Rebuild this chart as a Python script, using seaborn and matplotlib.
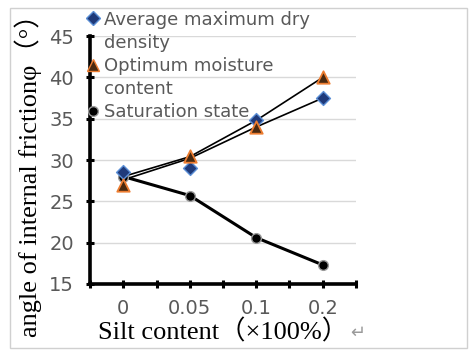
import numpy as np
import pandas as pd
import matplotlib
matplotlib.use('Agg')
import matplotlib.pyplot as plt
import seaborn as sns
from matplotlib.patches import Rectangle
from matplotlib.lines import Line2D

silt = ['0', '0.05', '0.1', '0.2']
dry_density = [28.5, 29.0, 34.8, 37.5]
moisture = [27.0, 30.5, 34.0, 40.0]
saturation = [28.0, 25.7, 20.6, 17.3]
# thin curves drawn in the original
curve_upper = [28.0, 30.4, 34.8, 40.0]
curve_lower = [27.6, 30.2, 34.0, 37.5]

x = np.arange(len(silt))
df = pd.DataFrame({'x': x, 'dry': dry_density, 'moist': moisture, 'sat': saturation,
                   'up': curve_upper, 'low': curve_lower})

sns.set_style('white')
fig = plt.figure(figsize=(4.74, 3.54), dpi=100)
ax = fig.add_axes([0.190, 0.198, 0.561, 0.700])

sns.lineplot(data=df, x='x', y='up', ax=ax, color='black', lw=1.2, zorder=3)
sns.lineplot(data=df, x='x', y='low', ax=ax, color='black', lw=1.2, zorder=3)
sns.lineplot(data=df, x='x', y='sat', ax=ax, color='black', lw=2.2, marker='o',
             markersize=7, markerfacecolor='black', markeredgecolor='#9a9a9a',
             markeredgewidth=1.0, zorder=4)
sns.scatterplot(data=df, x='x', y='dry', ax=ax, marker='D', s=50, color='#1f3a7a',
                edgecolor='#5b8fd6', linewidth=1.0, zorder=5)
sns.scatterplot(data=df, x='x', y='moist', ax=ax, marker='^', s=80, color='#4a2a10',
                edgecolor='#ed7d31', linewidth=1.3, zorder=5)

ax.set_xlim(-0.5, 3.5)
ax.set_ylim(15, 45)
ax.set_yticks([15, 20, 25, 30, 35, 40, 45])
ax.set_xticks(x)
ax.set_xticklabels(silt)
ax.set_xticks([-0.5, 0.5, 1.5, 2.5, 3.5], minor=True)
ax.yaxis.grid(True, color='#d9d9d9', lw=1.0)
ax.set_axisbelow(True)
for s in ['top', 'right']:
    ax.spines[s].set_visible(False)
for s in ['left', 'bottom']:
    ax.spines[s].set_color('black')
    ax.spines[s].set_linewidth(2.6)
ax.tick_params(axis='both', which='both', direction='inout', color='black',
               length=6, width=2.2, labelsize=14, labelcolor='#595959',
               left=True, bottom=True)
ax.tick_params(axis='x', which='major', pad=8)
ax.tick_params(axis='y', which='major', pad=8.5)
ax.set_xlabel('Silt content（×100%）', fontsize=19, family=['Liberation Serif', 'Noto Sans CJK SC'],
              color='black')
ax.set_ylabel('angle of internal frictionφ（°）', fontsize=19,
              family=['Liberation Serif', 'Noto Sans CJK SC'], color='black')
ax.yaxis.set_label_coords(-0.182, 0.462)
ax.xaxis.set_label_coords(0.50, -0.145)

fig.text(0.738, 0.045, '↵', fontsize=13, color='#9a9a9a', family='DejaVu Sans')

blank = Line2D([], [], ls='none', marker=None)
handles = [
    Line2D([], [], ls='none', marker='D', markersize=7, markerfacecolor='#1f3a7a',
           markeredgecolor='#5b8fd6'),
    blank,
    Line2D([], [], ls='none', marker='^', markersize=9, markerfacecolor='#4a2a10',
           markeredgecolor='#ed7d31'),
    blank,
    Line2D([], [], ls='none', marker='o', markersize=7, markerfacecolor='black',
           markeredgecolor='#9a9a9a'),
]
labels = ['Average maximum dry', 'density', 'Optimum moisture', 'content', 'Saturation state']
fig.legend(handles, labels, loc='upper left', bbox_to_anchor=(0.169, 0.99), frameon=False,
           fontsize=13, labelcolor='#595959', handlelength=0.6, handletextpad=0.35,
           labelspacing=0.28, borderaxespad=0)

fig.add_artist(Rectangle((0.021, 0.017), 0.965, 0.96, transform=fig.transFigure,
                         fill=False, edgecolor='#d0d0d0', lw=1.0))

fig.savefig('out.png', dpi=100)
